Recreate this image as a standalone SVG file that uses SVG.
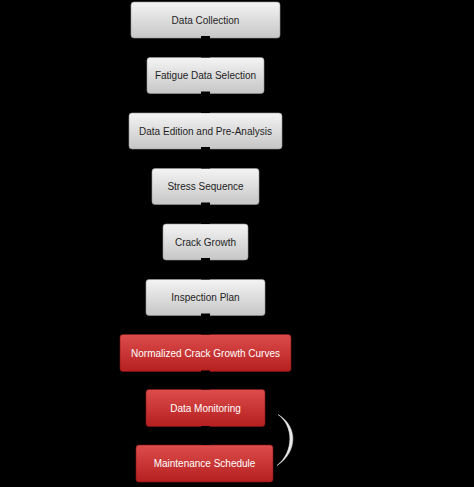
<svg xmlns="http://www.w3.org/2000/svg" width="474" height="487" viewBox="0 0 474 487">
<defs>
<linearGradient id="gGray" x1="0" y1="0" x2="0" y2="1">
<stop offset="0" stop-color="#f4f4f4"/>
<stop offset="1" stop-color="#c6c6c6"/>
</linearGradient>
<linearGradient id="gRed" x1="0" y1="0" x2="0" y2="1">
<stop offset="0" stop-color="#dc4d4b"/>
<stop offset="1" stop-color="#b51f1f"/>
</linearGradient>
</defs>
<style>
.g{fill:url(#gGray);stroke:#9a9a9a;stroke-width:0.6}
.r{fill:url(#gRed);stroke:#8a1515;stroke-width:0.6}
.t{font-family:"Liberation Sans",Arial,sans-serif;font-size:10px;text-anchor:middle;dominant-baseline:central}
.tg{fill:#1e1e1e}
.tr{fill:#ffffff}
.c{stroke:#000;stroke-width:9;fill:none}
</style>
<rect width="474" height="487" fill="#000"/>
<g id="n1"><rect class="g" x="131" y="2" width="149" height="36" rx="3"/><text class="t tg" x="205.5" y="20">Data Collection</text></g>
<g id="n2"><rect class="g" x="147" y="57.5" width="117" height="36" rx="3"/><text class="t tg" x="205.5" y="75.5">Fatigue Data Selection</text></g>
<g id="n3"><rect class="g" x="129" y="113" width="153" height="36" rx="3"/><text class="t tg" x="205.5" y="131">Data Edition and Pre-Analysis</text></g>
<g id="n4"><rect class="g" x="152" y="168.5" width="107" height="36" rx="3"/><text class="t tg" x="205.5" y="186.5">Stress Sequence</text></g>
<g id="n5"><rect class="g" x="163" y="224" width="85" height="36" rx="3"/><text class="t tg" x="205.5" y="242">Crack Growth</text></g>
<g id="n6"><rect class="g" x="146" y="279.5" width="119" height="36" rx="3"/><text class="t tg" x="205.5" y="297.5">Inspection Plan</text></g>
<g id="n7"><rect class="r" x="120" y="334.5" width="171" height="37" rx="3"/><text class="t tr" x="205.5" y="353">Normalized Crack Growth Curves</text></g>
<g id="n8"><rect class="r" x="146" y="389.5" width="119" height="37" rx="3"/><text class="t tr" x="205.5" y="408">Data Monitoring</text></g>
<g id="n9"><rect class="r" x="136" y="445" width="137" height="37" rx="3"/><text class="t tr" x="204.5" y="463.5">Maintenance Schedule</text></g>
<g id="connectors">
<path class="c" d="M205.5,36 V57.5"/>
<path class="c" d="M205.5,91.5 V113"/>
<path class="c" d="M205.5,147 V168.5"/>
<path class="c" d="M205.5,202.5 V224"/>
<path class="c" d="M205.5,258 V279.5"/>
<path class="c" d="M205.5,313.5 V334.5"/>
<path class="c" d="M205.5,370.5 V389.5"/>
<path class="c" d="M205.5,426 V445"/>
<path d="M278,414.5 C298,426 298,452 277,465.5 C294,452 294,426 278,414.5 z" fill="#e8e8e8" stroke="#e8e8e8" stroke-width="0.5"/>
</g>
</svg>
